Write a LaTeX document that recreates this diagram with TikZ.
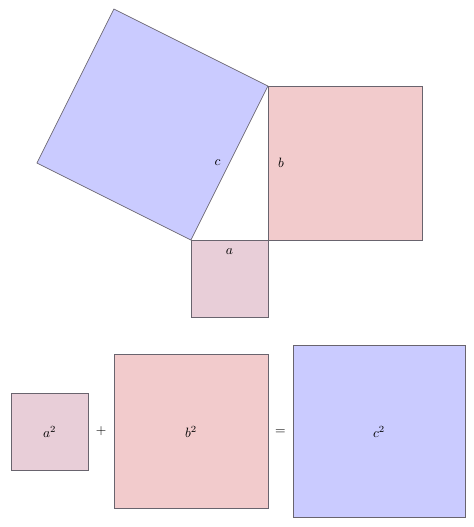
\documentclass[tikz,border=0pt]{standalone}
\usepackage{amssymb}
\usepackage{tikz}
\usetikzlibrary{calc}

\definecolor{edgegray}{RGB}{105,100,110}
\definecolor{sqa}{RGB}{232,206,216}
\definecolor{sqb}{RGB}{242,203,204}
\definecolor{sqc}{RGB}{202,203,255}

\tikzset{
    squareA/.style={fill=sqa, draw=edgegray, line width=0.5pt},
    squareB/.style={fill=sqb, draw=edgegray, line width=0.5pt},
    squareC/.style={fill=sqc, draw=edgegray, line width=0.5pt},
}

\begin{document}
\begin{tikzpicture}
    \useasboundingbox (0,0) rectangle (12.31,13.69);
    % the triangle
    \coordinate (A) at (4.96,7.455);
    \coordinate (B) at ($(A)+(2,0)$);
    \coordinate (C) at ($(B)+(0,4)$);
    % squares on the sides
    \draw[squareA] (A) rectangle ++(2,-2);
    \draw[squareB] (B) rectangle ++(4,4);
    \draw[squareC] (A) -- (C) -- ++(-4,2) -- ($(A)+(-4,2)$) -- cycle;
    \node[below=3pt] (la) at ($(A)!0.5!(B)$) {$a$};
    \node[right=4pt] (lb) at ($(B)!0.5!(C)$) {$b$};
    \node[left=3pt] (lc) at ($(A)!0.5!(C)$) {$c$};
    % a^2 + b^2 = c^2
    \draw[squareA] (0.29,1.48) rectangle (2.29,3.48);
    \node (asq) at (1.29,2.48) {$a^2$};
    \node (plus) at (2.625,2.48) {$+$};
    \draw[squareB] (2.96,0.48) rectangle (6.96,4.48);
    \node (bsq) at (4.96,2.48) {$b^2$};
    \node (eq) at (7.285,2.48) {$=$};
    \draw[squareC] (7.61,0.244) rectangle (12.082,4.716);
    \node (csq) at (9.846,2.48) {$c^2$};
\end{tikzpicture}
\end{document}
